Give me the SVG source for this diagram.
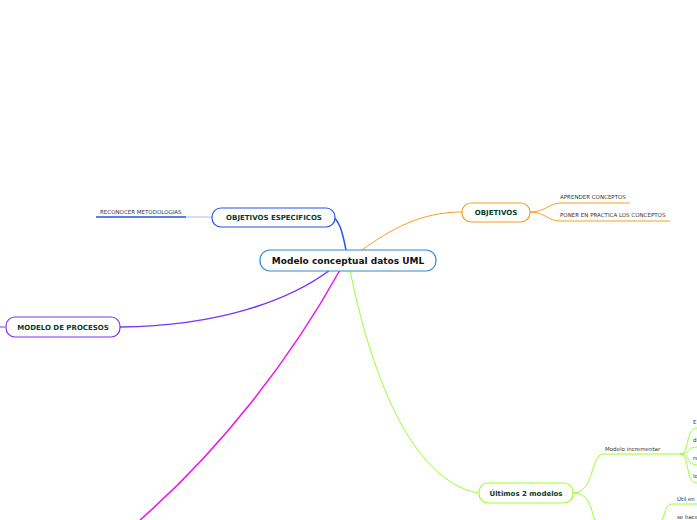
<svg xmlns="http://www.w3.org/2000/svg" width="697" height="520" viewBox="0 0 697 520">
<style>
.n{fill:#fff;stroke-width:1.2}
.t{font-family:Verdana,"DejaVu Sans",sans-serif;font-weight:bold;fill:#0b3b2e;font-size:7px;text-anchor:middle}
.s{font-family:Verdana,"DejaVu Sans",sans-serif;fill:#333;font-size:5.5px}
.c{fill:none}
</style>
<rect width="697" height="520" fill="#fff"/>
<g id="connectors" class="c">
<path d="M346,250 C343,235 340,218 330,216" stroke="#2255ee" stroke-width="1.5"/>
<path d="M212,217 L186,217" stroke="#aabbee" stroke-width="1"/>
<path d="M186,217 L96,217" stroke="#2255ee" stroke-width="1.5"/>
<path d="M362,250 C390,230 420,212 462,212" stroke="#f5a020" stroke-width="1"/>
<path d="M530,212 C545,212 548,204 560,203 L630,203" stroke="#f5a020" stroke-width="1"/>
<path d="M530,212 C545,212 548,221 560,221 L670,221" stroke="#f5a020" stroke-width="1"/>
<path d="M330,270 C290,300 220,326 120,327" stroke="#7a33ff" stroke-width="1.5"/>
<path d="M5,327 L0,327" stroke="#7a33ff" stroke-width="1"/>
<path d="M340,270 C290,360 220,450 140,520" stroke="#ee11ee" stroke-width="1.5"/>
<path d="M350,270 C370,370 410,480 478,493" stroke="#99ff33" stroke-width="1"/>
<path d="M573,493 C595,493 590,455 603,454 L680,454" stroke="#99ff33" stroke-width="1"/>
<path d="M573,493 C595,493 590,520 600,530" stroke="#99ff33" stroke-width="1"/>
<path d="M680,454 C690,454 685,428 697,428" stroke="#99ff33" stroke-width="1"/>
<path d="M680,454 C690,454 687,447 697,447" stroke="#99ff33" stroke-width="1"/>
<path d="M680,454 C690,454 687,465 697,465" stroke="#99ff33" stroke-width="1"/>
<path d="M680,454 C690,454 685,483 697,483" stroke="#99ff33" stroke-width="1"/>
<path d="M697,504 L672,504 C665,504 665,515 662,520" stroke="#99ff33" stroke-width="1"/>
</g>
<g id="n-root"><rect class="n" x="260" y="250" width="176" height="21" rx="10" stroke="#3388cc"/><text class="t" x="348" y="264" style="fill:#111;font-size:9px">Modelo conceptual datos UML</text></g>
<g id="n-oe"><rect class="n" x="212" y="208" width="123" height="19" rx="9" stroke="#2255ee"/><text class="t" x="274" y="220">OBJETIVOS ESPECIFICOS</text></g>
<g id="n-rec"><text class="s" x="100" y="214">RECONOCER METODOLOGIAS</text></g>
<g id="n-obj"><rect class="n" x="462" y="203" width="68" height="19" rx="9" stroke="#f5a020"/><text class="t" x="496" y="215">OBJETIVOS</text></g>
<g id="n-apr"><text class="s" x="560" y="199">APRENDER CONCEPTOS</text></g>
<g id="n-pon"><text class="s" x="560" y="217">PONER EN PRACTICA LOS CONCEPTOS</text></g>
<g id="n-mp"><rect class="n" x="6" y="317" width="114" height="20" rx="9" stroke="#7a33ff"/><text class="t" x="63" y="330">MODELO DE PROCESOS</text></g>
<g id="n-ult"><rect class="n" x="479" y="483" width="94" height="20" rx="9" stroke="#99ff33"/><text class="t" x="526" y="496">Últimos 2 modelos</text></g>
<g id="n-mi"><text class="s" x="605" y="451">Modelo incrementar</text></g>
<g id="n-e"><text class="s" x="693" y="424">E</text></g>
<g id="n-d"><text class="s" x="693" y="442">di</text></g>
<g id="n-r"><text class="s" x="693" y="460">re</text></g>
<g id="n-l"><text class="s" x="693" y="478">lo</text></g>
<g id="n-u"><text class="s" x="677" y="501">Útil en</text></g>
<g id="n-se"><text class="s" x="677" y="519">se hace</text></g>
</svg>
